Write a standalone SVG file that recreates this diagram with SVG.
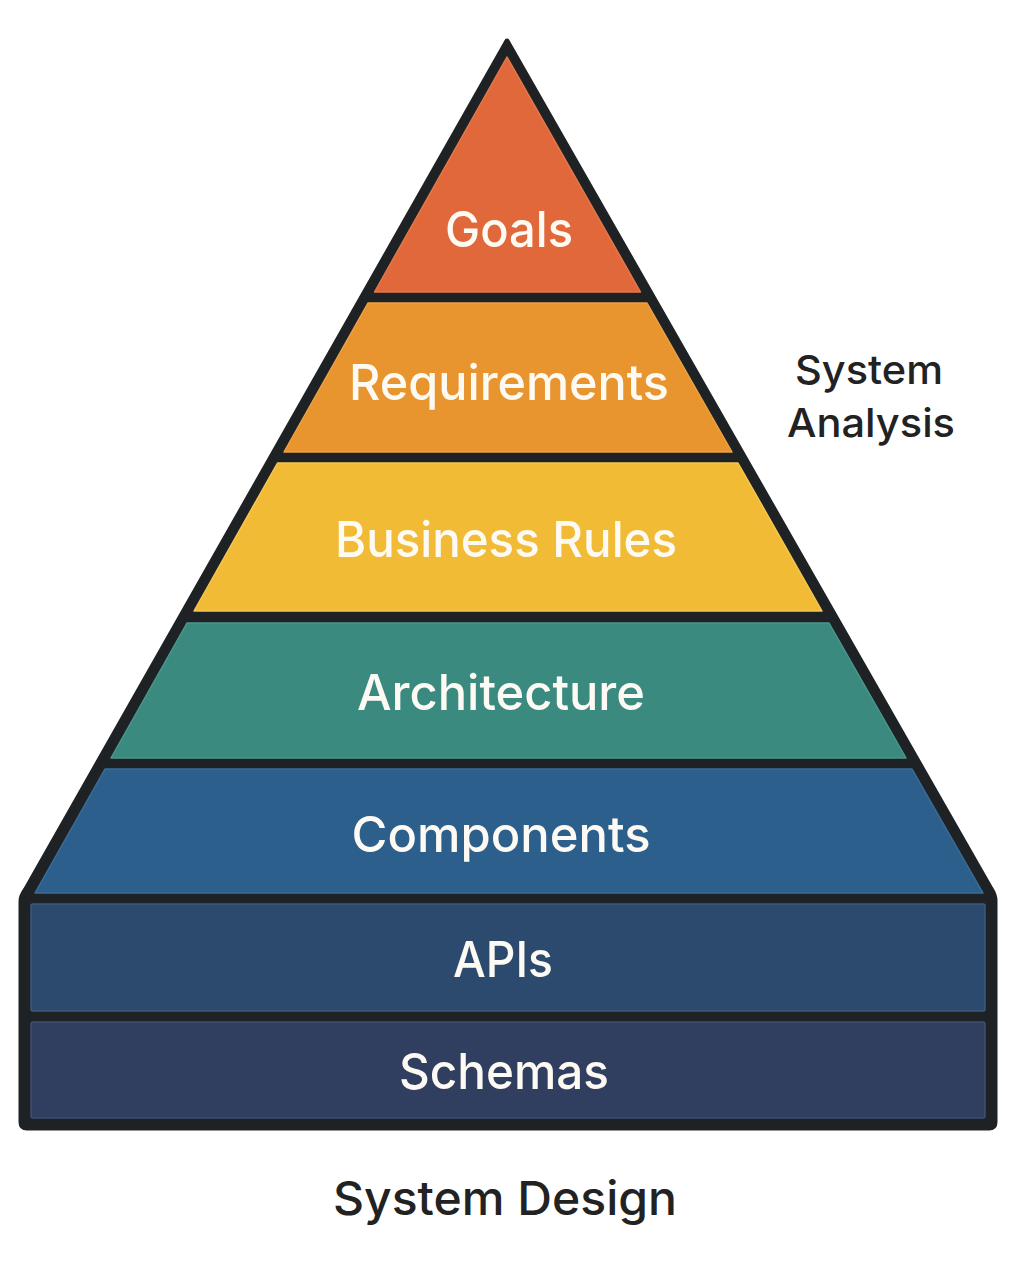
<svg xmlns="http://www.w3.org/2000/svg" width="1019" height="1280" viewBox="0 0 1019 1280">
  <style>
    .band { stroke-width: 1.5; stroke-linejoin: round; }
    .lbl { font-family: Inter, "Open Sans", "Liberation Sans", sans-serif; font-weight: 500; font-size: 50px; fill: #fdfaf3; text-anchor: middle; }
    .side { font-family: Inter, "Open Sans", "Liberation Sans", sans-serif; font-weight: 500; fill: #222222; text-anchor: middle; }
  </style>
  <rect x="0" y="0" width="1019" height="1280" fill="#ffffff"/>
  <g id="pyramid-outline">
    <path d="M507,41 L26,889 Q21,896 21,901 L21,1122 Q21,1128 27,1128 L989,1128 Q995,1128 995,1122 L995,901 Q995,895 991,889 Z" fill="#1f2224" stroke="#1f2224" stroke-width="5" stroke-linejoin="round"/>
  </g>
  <g id="goals">
    <polygon class="band" points="507,57 374.5,292 640.5,292" fill="#e0683a" stroke="#e57848"/>
    <text class="lbl" x="509" y="247" textLength="128" lengthAdjust="spacingAndGlyphs">Goals</text>
  </g>
  <g id="requirements">
    <polygon class="band" points="368,303 647,303 732,452 284,452" fill="#e8952f" stroke="#eda244"/>
    <text class="lbl" x="509" y="400" textLength="320" lengthAdjust="spacingAndGlyphs">Requirements</text>
  </g>
  <g id="business-rules">
    <polygon class="band" points="277.5,463 738,463 822,611 194,611" fill="#f2bb36" stroke="#f6c650"/>
    <text class="lbl" x="506" y="557" textLength="342" lengthAdjust="spacingAndGlyphs">Business Rules</text>
  </g>
  <g id="architecture">
    <polygon class="band" points="187,623 829,623 906,758 111,758" fill="#3b8a80" stroke="#4a978d"/>
    <text class="lbl" x="501" y="710" textLength="288" lengthAdjust="spacingAndGlyphs">Architecture</text>
  </g>
  <g id="components">
    <polygon class="band" points="105,769 912,769 983,893 35,893" fill="#2d5f8c" stroke="#3a6d9a"/>
    <text class="lbl" x="501" y="852" textLength="299" lengthAdjust="spacingAndGlyphs">Components</text>
  </g>
  <g id="apis">
    <rect class="band" x="31" y="904" width="954" height="107" rx="2" fill="#2c4a6e" stroke="#3b5a80"/>
    <text class="lbl" x="503" y="977" textLength="100" lengthAdjust="spacingAndGlyphs">APIs</text>
  </g>
  <g id="schemas">
    <rect class="band" x="31" y="1022" width="954" height="96" rx="2" fill="#303e5f" stroke="#3f4e70"/>
    <text class="lbl" x="504" y="1089" textLength="210" lengthAdjust="spacingAndGlyphs">Schemas</text>
  </g>
  <g id="system-analysis">
    <text class="side" font-size="40" x="869" y="384" textLength="148" lengthAdjust="spacingAndGlyphs">System</text>
    <text class="side" font-size="40" x="871" y="437" textLength="168" lengthAdjust="spacingAndGlyphs">Analysis</text>
  </g>
  <g id="system-design">
    <text class="side" font-size="47" x="505" y="1215" textLength="344" lengthAdjust="spacingAndGlyphs">System Design</text>
  </g>
  <g id="connectors"></g>
</svg>
